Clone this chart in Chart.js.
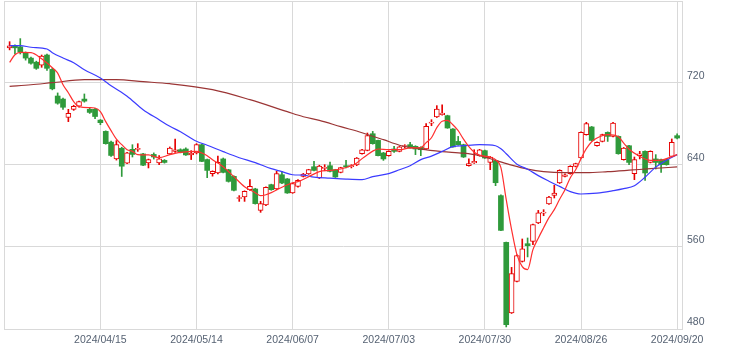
<!DOCTYPE html>
<html><head><meta charset="utf-8">
<script src="https://cdn.jsdelivr.net/npm/chart.js@4/dist/chart.umd.min.js"></script>
<style>html,body{margin:0;padding:0;background:#fff;}#wrap{width:744px;height:358px;}</style>
</head><body><div id="wrap"><canvas id="c" width="744" height="358"></canvas></div>
<script>
// Daily candles (open, high, low, close), 2024/03/21 .. 2024/09/20
const opens  = [754,756,755,749,744,740,737,747,733,707,704,686,694,697,704,694,694,683.5,672.5,662,645.5,656,641.5,655,655,650.5,641.7,650,641.7,644.2,650.4,653,654.6,655.3,649.5,651.4,659.5,645,631.2,631.9,645.6,635,628.6,607,608.5,615.6,616.3,595.4,600.7,620.5,616.3,630.2,626.1,612.4,618.8,628.6,630.9,638,627,636.4,639,635.1,632.5,639,638.1,639.7,650.7,654,670.2,663.7,651.4,648.8,655.3,653,657.7,659.5,657.9,656.9,655.3,680.5,686.5,688.8,687.8,674.8,662.7,659.5,639,641.7,648.8,653.7,642.2,643.9,609.8,564.2,495.3,526.1,545.7,562.9,565.2,583.1,592.7,601.7,610.1,622.1,628.6,631.2,638.3,646.5,669.3,676.8,658.5,662.7,671.5,667.6,667.6,644.9,658.5,631.2,648.8,653,642.2,645.6,644.9,644.9,648.1,668.3];
const highs  = [760,757,763,750,745,741,747,748,734,710,705,694,698,702,709,695,695,684,673,663,663.5,657,652,659.5,660.5,651,645.5,651.5,648.8,645,657.3,665,655.5,656.5,653.7,660.5,660,645.5,634,648.5,646.5,635.5,629,609.8,614.5,625.4,617,604.2,618.5,621,633.5,633.5,626.5,622,625.5,631.5,635.5,643.2,639.5,640,642.6,635.5,637.5,644.2,640,647,655,670.9,672.5,664,652,653.5,657.9,657.8,659.5,661.8,658.5,657.5,680,683.9,697.6,698.5,688.3,675.3,667.6,660,645.6,654.6,655,654.2,648,644.5,610.5,564.5,539.8,552,567.5,568.5,582,595.4,596.1,609,620,635,631,639,641.5,672,681.3,677.3,662.3,669.8,672,681.2,668.1,656.8,659,647.5,653,653.5,653.5,649.8,645.4,645.4,665.1,670.2];
const lows   = [752,748,748,742,738,733,735,732,713,699,694,682,693,696,701,690,685,679,660,648,644.5,628.5,641,647.5,653,639,636.8,645.5,640,641.5,650,652,651.5,649,645,650.5,643,627.3,628.8,631,632,623,614.5,604.2,604.2,615,601.5,593.5,600,615,615.5,621.5,612,612,618,628,630.5,634,626.5,634.1,633,627.5,632,636.8,636.8,639,650.2,653.5,660,648.5,644.2,648.3,652,652.5,656.3,656,649.8,648.8,654.8,678,686,688.3,675.5,657,659,647,638.5,641.2,648.3,646,635.1,619.5,575.5,481.7,494.8,525.5,545,550,562,582.5,590.2,601.2,607.5,621.6,628.1,630.7,637.8,646,668.8,663.2,658,662.2,662.7,667.1,650.2,644.4,640,625.4,645.6,624.7,641.7,635.8,632.5,639.5,647.6,665.1];
const closes = [756,754,750,744,739,734,746,734,714,700,696,690,697,701.5,702,691,687,681,660.5,649,659.5,638.5,651.5,650,655.5,639.5,645,647.5,645.6,642.2,656.3,654.6,652,649.5,651.4,659.5,643.2,634.4,633.5,642.2,632.5,623.7,615,607.5,614,618.8,602,602,617.9,615.6,631.2,622.1,612.4,621.5,624.7,630.9,635.1,634.4,638.7,636.8,633.5,628,637.1,637.8,638.5,646.5,654.6,668.3,660.5,648.8,645.6,653,653,657.3,658.1,656.3,655.3,654.6,677.4,681,694.3,690.4,675.8,657.3,659.5,647.5,641,643.2,654.6,646.5,647.5,622.4,575.9,483.9,533.7,551.2,557.8,561,581.5,592.9,593.1,608.5,612.4,634.4,630.2,638.3,641,671.5,680,663.7,661.8,669.3,667.6,680.7,650.7,656.3,642.2,644.9,650.7,631.9,653,642.2,640,640,661.8,666];

// Moving averages: [candle index, value]
const ma5  = [[0,739.8],[1,747.3],[2,749.6],[4,749.3],[6,743.4],[8,734.6],[9,729.3],[10,718],[11,710.2],[12,701.5],[13,696.6],[15,695.6],[16,695.3],[17,691.7],[18,682],[19,673.2],[20,664.9],[21,659.5],[22,654.6],[23,653],[24,649.8],[26,649.5],[28,646.8],[30,649.8],[32,652],[35,653],[36,651.4],[37,648.8],[38,644.9],[40,638],[42,628.3],[44,618.5],[46,612.7],[47,609.8],[48,610.7],[49,612.7],[51,618],[53,622.4],[54,623.4],[56,628.3],[58,633.2],[60,634.4],[62,635.8],[64,639],[65,641.7],[66,645.9],[67,649.8],[68,653.2],[69,655.3],[71,654.6],[73,654.6],[75,656.3],[77,656.6],[78,661.5],[79,666.3],[80,676.1],[81,682.4],[82,683.2],[83,679],[84,673.2],[85,664.9],[86,657.6],[87,652.2],[88,649.3],[89,648.3],[90,647.3],[91,644.9],[92,637.1],[93,605.9],[94,576.7],[95,552.2],[96,540.5],[97,537.6],[98,557.1],[99,568.3],[100,578.5],[101,588.3],[102,596.1],[103,606.3],[104,615.6],[105,627.3],[106,635.1],[107,645.9],[108,655.6],[109,662.4],[110,666],[112,669.3],[114,667.3],[115,661],[116,655.1],[118,648.1],[120,644.2],[122,644.4],[124,647.8],[125,649.8]];
const ma25 = [[0,756.1],[2,756.1],[4,754.6],[7,752.9],[8,749.3],[10,744.1],[12,739.5],[14,732.7],[17,724.6],[19,717.1],[22,706.8],[25,693.7],[28,683.9],[30,677.4],[32,672.2],[35,662.9],[37,659],[40,652.7],[43,646.8],[46,642],[49,636.1],[51,633.2],[53,630.2],[55,629.8],[57,627.8],[60,626.8],[63,625.9],[66,625.4],[68,628.3],[71,631.2],[73,635.1],[75,639],[77,644.9],[79,648.3],[81,653],[83,657.6],[85,658.5],[88,659.5],[91,658.5],[92,655.6],[93,650.7],[95,640.5],[97,635.6],[99,629.3],[101,623.9],[103,618.8],[105,613.7],[107,611.4],[110,612.2],[113,614.6],[115,616.6],[117,619.5],[119,627.8],[121,637.6],[123,644.4],[125,649.8]];
const ma75 = [[0,716.4],[4,718],[8,720],[14,722.9],[20,722.9],[25,721],[30,719],[38,713.2],[45,703.4],[52,691.7],[55,686.8],[58,683.2],[62,677.1],[66,671.2],[70,664.4],[73,659],[77,655.1],[81,652.7],[85,651.2],[88,648.8],[91,644.2],[94,639.5],[97,635.6],[100,633.2],[104,632.2],[108,632.2],[112,633.2],[116,634.6],[120,636.1],[125,637.8]];

const tickIndex  = [17,35,53,71,89,107,125];
const tickLabels = ['2024/04/15','2024/05/14','2024/06/07','2024/07/03','2024/07/30','2024/08/26','2024/09/20'];
const yTicks = [480,560,640,720];

const UP = '#e60000', DOWN = '#2f9a3b', GRID = '#d9d9d9', TXT = '#566273';
const isUp = i => closes[i] >= opens[i];
const bodies = opens.map((o,i)=>({x:i, y:[o, closes[i]]}));
const wicks  = opens.map((o,i)=>({x:i, y:[lows[i], highs[i]]}));
const pts = arr => arr.map(([x,y])=>({x,y}));

const frame = { id:'frame', beforeDatasetsDraw(chart){
  const {ctx, chartArea:a} = chart;
  ctx.save(); ctx.strokeStyle = GRID; ctx.lineWidth = 1;
  ctx.strokeRect(Math.round(a.left)+0.5, Math.round(a.top)+0.5, Math.round(a.right-a.left)-1, Math.round(a.bottom-a.top)-1);
  ctx.restore();
}};

const lineDs = (data, color, order) => ({type:'line', data:pts(data), borderColor:color, borderWidth:1.2, pointRadius:0, fill:false, cubicInterpolationMode:'monotone', order});
const font = {family:'Liberation Sans', size:10.5};
const noPad = s => { s.paddingTop = 0; s.paddingBottom = 0; s.paddingLeft = 0; s.paddingRight = 0; };

new Chart(document.getElementById('c'), {
  type:'bar',
  data:{datasets:[
    lineDs(ma75, '#9b3535', 2),
    lineDs(ma25, '#3c3cff', 1),
    lineDs(ma5,  '#ff3030', 0),
    {type:'bar', data:bodies, grouped:false, barThickness:5, minBarLength:1, borderSkipped:false,
     backgroundColor: c => isUp(c.dataIndex) ? '#ffffff' : DOWN,
     borderColor: c => isUp(c.dataIndex) ? UP : DOWN,
     borderWidth: c => isUp(c.dataIndex) ? 1 : 0, order:3},
    {type:'bar', data:wicks, grouped:false, barThickness:1, borderWidth:0,
     backgroundColor: c => isUp(c.dataIndex) ? UP : DOWN, order:4}
  ]},
  options:{
    responsive:false, animation:false, devicePixelRatio:1,
    layout:{padding:{left:4, top:1, right:0, bottom:0}},
    plugins:{legend:{display:false}, tooltip:{enabled:false}},
    scales:{
      x:{type:'linear', min:-1.05, max:126.1, offset:false,
         grid:{color:GRID, drawTicks:false, offset:false}, border:{display:false},
         afterBuildTicks: s => { s.ticks = tickIndex.map(v=>({value:v})); },
         ticks:{autoSkip:false, maxRotation:0, padding:4, color:TXT, font,
                callback: v => tickLabels[tickIndex.indexOf(v)]},
         afterFit: s => { s.height = 28; noPad(s); }},
      y:{type:'linear', position:'right', min:478.7, max:799.7,
         grid:{color: c => c.tick && c.tick.value===480 ? 'rgba(0,0,0,0)' : GRID, drawTicks:false}, border:{display:false},
         afterBuildTicks: s => { s.ticks = yTicks.map(v=>({value:v})); },
         ticks:{padding:4, labelOffset:-7, color:TXT, font, callback: v => String(v)},
         afterFit: s => { s.width = 61; noPad(s); }}
    }
  },
  plugins:[frame]
});
</script></body></html>
